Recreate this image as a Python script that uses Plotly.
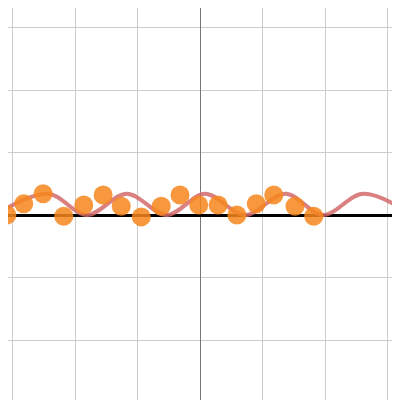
import plotly.graph_objects as go

# puntos (naranja)
pts_x = [-3.09, -2.82, -2.51, -2.18, -1.86, -1.55, -1.26, -0.94, -0.62,
         -0.32, -0.02, 0.29, 0.59, 0.90, 1.18, 1.52, 1.82]
pts_y = [0.00, 0.18, 0.34, -0.02, 0.16, 0.32, 0.14, -0.03, 0.14,
         0.32, 0.16, 0.16, 0.00, 0.18, 0.32, 0.14, -0.02]

# curva: picos y valles
curva_x = [-3.25, -2.43, -1.81, -1.17, -0.53, 0.08, 0.72, 1.37, 1.97, 2.61, 3.4]
curva_y = [0.02, 0.34, 0.00, 0.34, 0.00, 0.34, 0.00, 0.34, 0.00, 0.34, 0.00]

fig = go.Figure()
fig.add_trace(go.Scatter(
    x=curva_x, y=curva_y, mode="lines", line_shape="spline",
    line=dict(color="#d46a6a", width=4), opacity=0.85, hoverinfo="skip"
))
fig.add_trace(go.Scatter(
    x=pts_x, y=pts_y, mode="markers",
    marker=dict(color="#f7861c", size=19, opacity=0.85, line=dict(width=0))
))

eje = dict(dtick=1, showgrid=True, gridcolor="#cccccc", gridwidth=1,
           showticklabels=False, ticks="", showline=False, zeroline=True)
# la pagina tiene margen de 8px, se compensa con el rango
fig.update_xaxes(range=[-3.072, 3.328], zerolinecolor="#777777", zerolinewidth=1, **eje)
fig.update_yaxes(range=[-3.088, 3.312], zerolinecolor="#000000", zerolinewidth=3, **eje)

fig.update_layout(
    width=400, height=400, margin=dict(l=0, r=0, t=0, b=0),
    plot_bgcolor="white", paper_bgcolor="white", showlegend=False
)

fig.write_html("out.html")
